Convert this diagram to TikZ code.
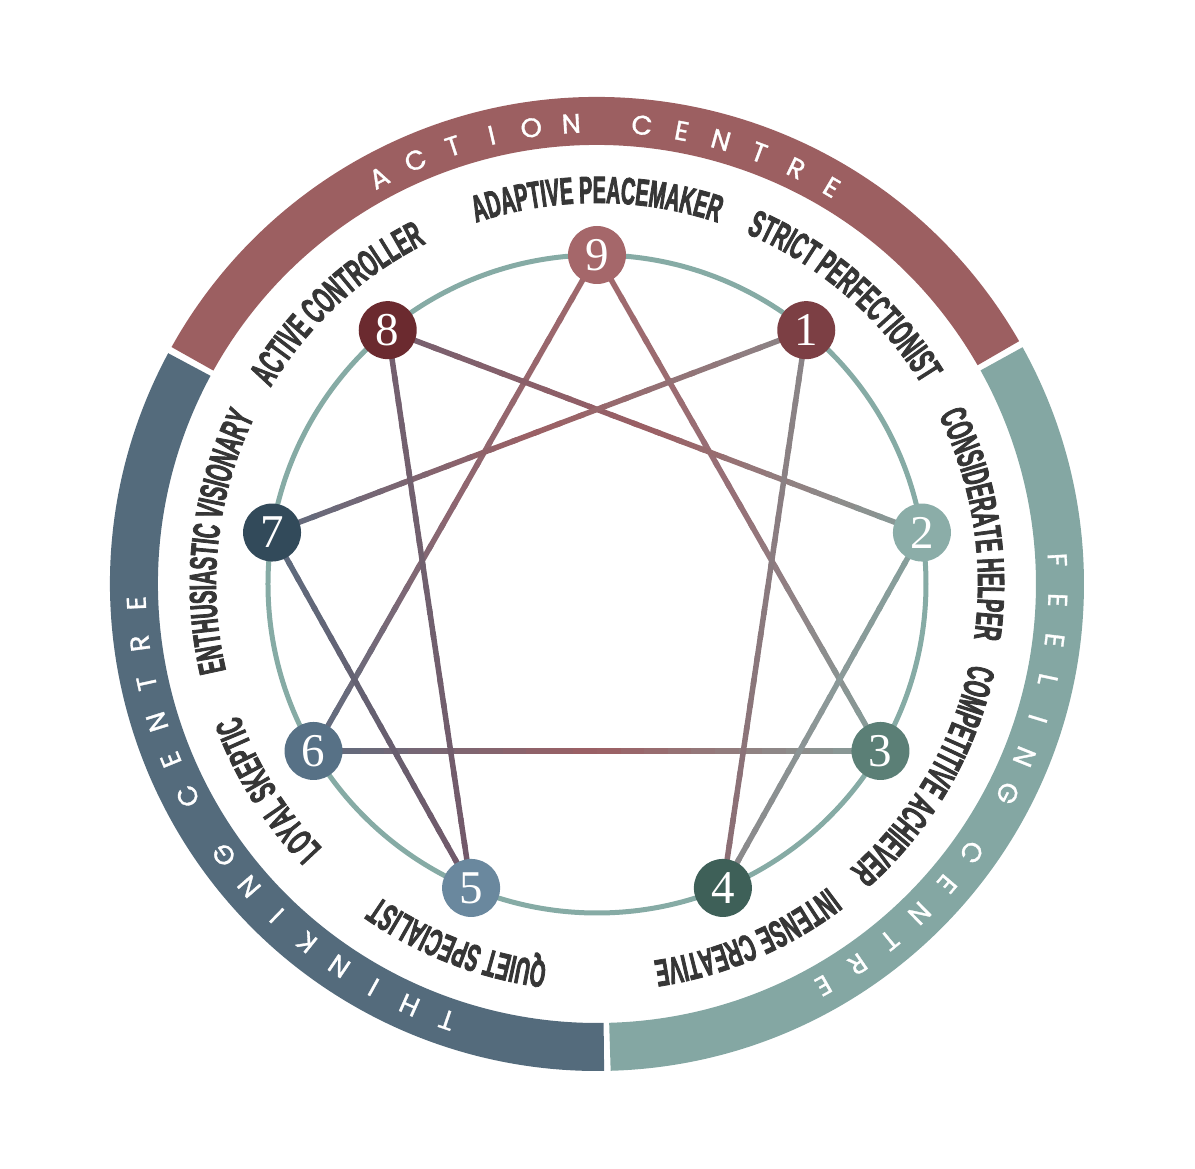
\documentclass[tikz,border=0pt]{standalone}
\usepackage{fontspec}
\usetikzlibrary{calc,decorations.text}
\newfontfamily\labfont[FakeStretch=0.52,FakeBold=2]{Liberation Sans Bold}
\newfontfamily\ringfont[FakeBold=1.2]{Poppins}
\newfontfamily\numfont{Liberation Serif}

\definecolor{actioncol}{HTML}{9C5F61}
\definecolor{feelcol}{HTML}{84A7A3}
\definecolor{thinkcol}{HTML}{546B7C}
\definecolor{circcol}{HTML}{86ABA5}
\definecolor{labgray}{HTML}{363636}
\definecolor{c9}{HTML}{A5676A}
\definecolor{c1}{HTML}{7C3F44}
\definecolor{c8}{HTML}{6B2A2F}
\definecolor{c2}{HTML}{8BADA8}
\definecolor{c3}{HTML}{5B7F76}
\definecolor{c4}{HTML}{3E6058}
\definecolor{c5}{HTML}{6A889E}
\definecolor{c6}{HTML}{577186}
\definecolor{c7}{HTML}{324A5A}
% line colours
\definecolor{lred}{HTML}{9C5F64}
\definecolor{lrose}{HTML}{A0686B}
\definecolor{lslate}{HTML}{5E6C7F}
\definecolor{lteal}{HTML}{86A09C}
\definecolor{lgray}{HTML}{8A8688}
\definecolor{lplum}{HTML}{735869}
\definecolor{lmauve}{HTML}{8C6C72}
\definecolor{lpurp}{HTML}{74606F}
\definecolor{mmauve}{HTML}{8E6670}
\definecolor{mrose}{HTML}{967077}
\definecolor{mgray}{HTML}{8A7A7E}
\definecolor{mteal}{HTML}{8C9898}
\definecolor{mplum}{HTML}{70606E}
\definecolor{mslate}{HTML}{656070}

\pgfdeclarelayer{back}
\pgfsetlayers{back,main}

\tikzset{
  pnode/.style={circle, minimum size=58pt, inner sep=0pt, text=white,
    font=\numfont\fontsize{47}{47}\selectfont},
  ringletter/.style={text=white, inner sep=0pt,
    font=\ringfont\fontsize{27}{27}\selectfont}
}

% line from node to node, colour a -> mid -> b
\newcommand\gradline[5]{%
  \foreach \k in {1,...,24}{%
    \pgfmathsetmacro\ta{(\k-1)/24}%
    \pgfmathsetmacro\tb{min(\k/24+0.01,1)}%
    \pgfmathtruncatemacro\pa{abs(100-200*(\k-0.5)/24)}%
    \ifnum\k<13 \colorlet{segcol}{#3!\pa!#4}\else\colorlet{segcol}{#5!\pa!#4}\fi
    \draw[segcol, line width=5.5pt] ($(#1)!\ta!(#2)$) -- ($(#1)!\tb!(#2)$);
  }}
% letters of a centre name on the ring
\newcommand\ringword[3]{%
  \foreach \ch [count=\i from 0] in {#3}{%
    \pgfmathsetmacro\ang{#1-5*\i}%
    \node[ringletter, rotate=\ang-90] (#2-\i) at (\ang:461) {\ch};
  }}
% type name along the circle
\newcommand\typelabel[2]{%
  \path[decorate, decoration={text along path, text align=center, text color=labgray,
    text={|\labfont\fontsize{38}{38}\selectfont|#2}}]
    (#1+50:381) arc[start angle=#1+50, end angle=#1-50, radius=381];}

\begin{document}
\begin{tikzpicture}[x=1pt, y=1pt]
\useasboundingbox (-597,-585) rectangle (598,584);
\begin{pgfonlayer}{back}
  \draw[actioncol, line width=48pt] (29.9:463) arc[start angle=29.9, end angle=150.9, radius=463];
  \draw[feelcol, line width=48pt] (-88.4:463) arc[start angle=-88.4, end angle=29.1, radius=463];
  \draw[thinkcol, line width=48pt] (151.7:463) arc[start angle=151.7, end angle=270.85, radius=463];
  \draw[circcol, line width=5pt] (0,0) circle[radius=329];
\end{pgfonlayer}

\ringword{118.2}{act}{A,C,T,I,O,N}
\ringword{84.4}{actc}{C,E,N,T,R,E}
\ringword{3}{feel}{F,E,E,L,I,N,G}
\ringword{-35.6}{feelc}{C,E,N,T,R,E}
\ringword{-109}{think}{T,H,I,N,K,I,N,G}
\ringword{-152.6}{thinkc}{C,E,N,T,R,E}

\typelabel{90}{ADAPTIVE PEACEMAKER}
\typelabel{49.3}{STRICT PERFECTIONIST}
\typelabel{9}{CONSIDERATE HELPER}
\typelabel{-30.3}{COMPETITIVE ACHIEVER}
\typelabel{-67.1}{INTENSE CREATIVE}
\typelabel{-111.2}{QUIET SPECIALIST}
\typelabel{-148}{LOYAL SKEPTIC}
\typelabel{173.6}{ENTHUSIASTIC VISIONARY}
\typelabel{132.8}{ACTIVE CONTROLLER}

\foreach \n/\a in {9/90, 1/50.5, 2/9, 3/-30.5, 4/-67.5, 5/-112.5, 6/-149.5, 7/171, 8/129.5}
  \node[pnode, fill=c\n] (n\n) at (\a:329) {\n};

\begin{pgfonlayer}{back}
  \gradline{n9}{n6}{lrose}{mmauve}{lslate}
  \gradline{n9}{n3}{lrose}{mrose}{lteal}
  \gradline{n6}{n3}{lslate}{lred}{lteal}
  \gradline{n8}{n2}{lpurp}{lred}{lteal}
  \gradline{n1}{n7}{lgray}{lred}{lslate}
  \gradline{n1}{n4}{lgray}{mgray}{lmauve}
  \gradline{n2}{n4}{lteal}{mteal}{lgray}
  \gradline{n8}{n5}{lpurp}{mplum}{lplum}
  \gradline{n7}{n5}{lslate}{mslate}{lplum}
\end{pgfonlayer}
\end{tikzpicture}
\end{document}
